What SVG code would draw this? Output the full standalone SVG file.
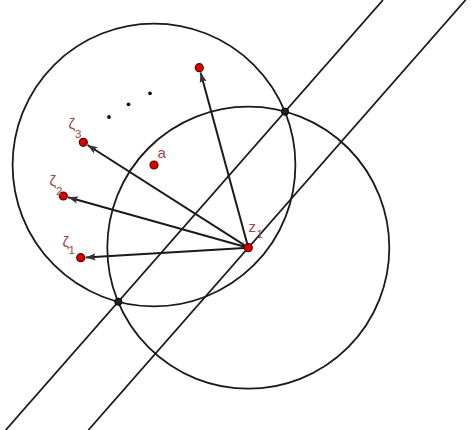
<svg xmlns="http://www.w3.org/2000/svg" width="474" height="430" viewBox="0 0 474 430">
<style>
.geo{fill:none;stroke:#1a1a1a;stroke-width:1.8}
.arr{fill:none;stroke:#1a1a1a;stroke-width:2}
.pt{fill:#d90000;stroke:#5a0000;stroke-width:1.2}
.ix{fill:#222;stroke:#000;stroke-width:1}
.dot{fill:#111}
.lbl{font-family:"Liberation Sans","DejaVu Sans",sans-serif;font-size:15px;fill:#9a4848}
.sub{font-size:11.5px}
</style>
<defs>
<marker id="ah" markerUnits="userSpaceOnUse" markerWidth="12" markerHeight="10" viewBox="0 -5 12 10" refX="10" refY="0" orient="auto">
<path d="M0,-3.6 L10,0 L0,3.6 L2,0 z" fill="#333"/>
</marker>
</defs>
<rect width="474" height="430" fill="#fff"/>
<g id="construction">
<circle class="geo" cx="154" cy="165" r="141.4"/>
<circle class="geo" cx="248.3" cy="247.7" r="141"/>
<line class="geo" x1="383" y1="0" x2="5.7" y2="430"/>
<line class="geo" x1="465.6" y1="0" x2="88.4" y2="430"/>
</g>
<g id="connectors">
<line class="arr" x1="248.3" y1="247.7" x2="85.7" y2="257.4" marker-end="url(#ah)"/>
<line class="arr" x1="248.3" y1="247.7" x2="68.1" y2="197.3" marker-end="url(#ah)"/>
<line class="arr" x1="248.3" y1="247.7" x2="87.5" y2="145" marker-end="url(#ah)"/>
<line class="arr" x1="248.3" y1="247.7" x2="200.6" y2="72.5" marker-end="url(#ah)"/>
</g>
<g id="ellipsis">
<circle class="dot" cx="109" cy="117" r="1.9"/>
<circle class="dot" cx="128.5" cy="104.3" r="1.9"/>
<circle class="dot" cx="150" cy="93.3" r="1.9"/>
</g>
<g id="intersection-top"><circle class="ix" cx="285" cy="111.7" r="3.6"/></g>
<g id="intersection-bottom"><circle class="ix" cx="118.3" cy="301.7" r="3.6"/></g>
<g id="point-top"><circle class="pt" cx="199.3" cy="67.7" r="4"/></g>
<g id="zeta3"><circle class="pt" cx="83.3" cy="142.3" r="4"/><text class="lbl" x="68.5" y="129">ζ<tspan class="sub" x="75" y="137.5">3</tspan></text></g>
<g id="a"><circle class="pt" cx="154" cy="165" r="4"/><text class="lbl" x="157.5" y="158">a</text></g>
<g id="zeta2"><circle class="pt" cx="63.3" cy="196" r="4"/><text class="lbl" x="49.5" y="186">ζ<tspan class="sub" x="56" y="195">2</tspan></text></g>
<g id="zeta1"><circle class="pt" cx="80.7" cy="257.7" r="4"/><text class="lbl" x="62.5" y="246.5">ζ<tspan class="sub" x="68.5" y="253.5">1</tspan></text></g>
<g id="z1"><circle class="pt" cx="248.3" cy="247.7" r="4"/><text class="lbl" x="248.5" y="232">z<tspan class="sub" x="256.5" y="237.5">1</tspan></text></g>
</svg>
